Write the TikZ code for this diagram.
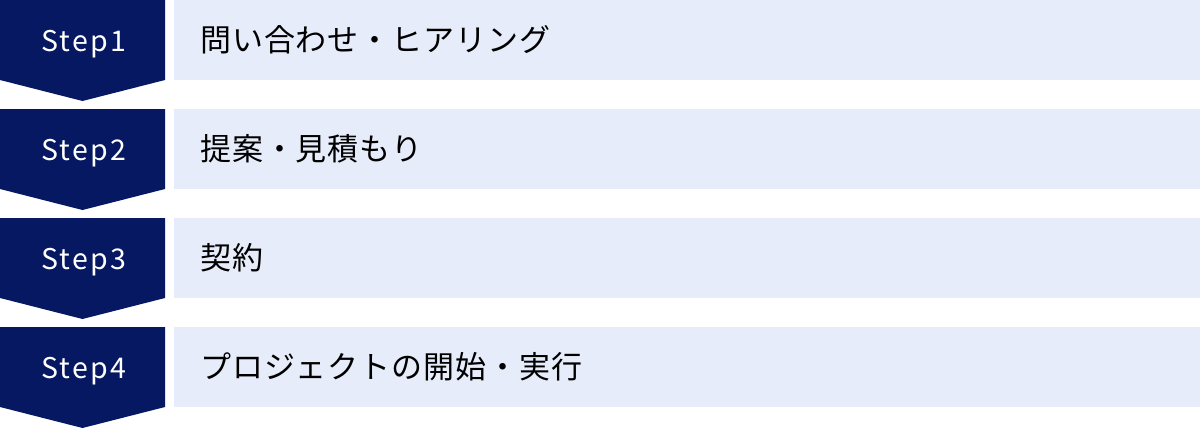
\documentclass[tikz,border=0pt]{standalone}
\usepackage{fontspec}
\newfontfamily\jpfont{Noto Sans CJK JP}
\newfontfamily\stepfont[LetterSpace=8]{Noto Sans CJK JP}
\newfontfamily\barfont[LetterSpace=3]{Noto Sans CJK JP}
\definecolor{navy}{HTML}{061862}
\definecolor{lightbar}{HTML}{E6ECFA}
\begin{document}
\begin{tikzpicture}[x=1pt,y=-1pt,
  steplabel/.style={text=white,font=\stepfont\fontsize{28.5}{34}\selectfont,inner sep=0pt,anchor=base},
  barlabel/.style={text=black,font=\barfont\fontsize{31}{36}\selectfont,inner sep=0pt,anchor=west},
  chevronfill/.style={fill=navy,draw=none},
  barfill/.style={fill=lightbar,draw=none}]
\useasboundingbox (0,0) rectangle (1200,429);
\foreach \i/\t in {0/{問い合わせ・ヒアリング},1/{提案・見積もり},2/{契約},3/{プロジェクトの開始・実行}}{
  \pgfmathsetmacro{\yy}{109*\i}
  \fill[chevronfill] (0,\yy) -- (165,\yy) -- (165,\yy+80) -- (82.5,\yy+101) -- (0,\yy+80) -- cycle;
  \fill[barfill] (174,\yy) rectangle (1200,\yy+80);
  \pgfmathtruncatemacro{\n}{\i+1}
  \node[steplabel] (step\n) at (83.5,\yy+51.5) {Step\n};
  \node[barlabel] (bar\n) at (200,\yy+40) {\t};
}
\end{tikzpicture}
\end{document}
